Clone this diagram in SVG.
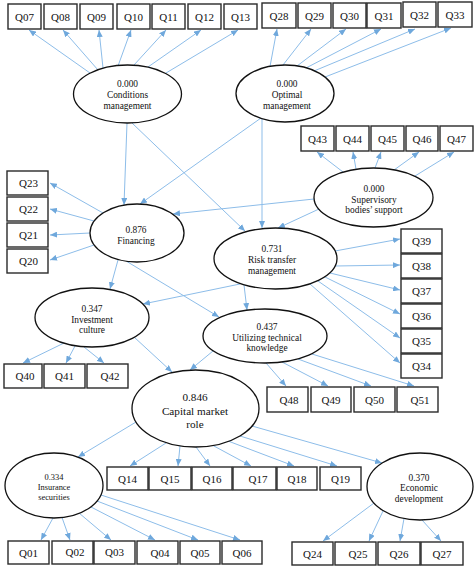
<svg xmlns="http://www.w3.org/2000/svg" width="474" height="566" viewBox="0 0 474 566">
<style>
.b rect{fill:#fff;stroke:#2a2a2a;stroke-width:1.4}
.b text{font-family:"Liberation Serif","Times New Roman",serif;font-size:11px;text-anchor:middle;fill:#111}
.n ellipse{fill:#fff;stroke:#111;stroke-width:1.3}
.n text{font-family:"Liberation Serif","Times New Roman",serif;font-size:9.4px;text-anchor:middle;fill:#111}
#conn line{stroke:#8dbde9;stroke-width:1;fill:none;marker-end:url(#ah)}
</style>
<defs>
<marker id="ah" markerUnits="userSpaceOnUse" markerWidth="7" markerHeight="6" refX="7" refY="3" orient="auto">
<path d="M0,0 L7,3 L0,6 z" fill="#6fa8dc"/>
</marker>
</defs>
<rect width="474" height="566" fill="#fff"/>
<g id="conn">
<line x1="90" y1="73" x2="29" y2="30"/>
<line x1="98" y1="70" x2="63" y2="30"/>
<line x1="103" y1="68" x2="99" y2="30"/>
<line x1="118" y1="66" x2="131" y2="30"/>
<line x1="134" y1="65" x2="166" y2="30"/>
<line x1="148" y1="67" x2="201" y2="30"/>
<line x1="166" y1="73" x2="238" y2="30"/>
<line x1="270" y1="66.5" x2="277" y2="29"/>
<line x1="283" y1="65" x2="311" y2="29"/>
<line x1="297" y1="66" x2="346" y2="29"/>
<line x1="306" y1="68" x2="381" y2="29"/>
<line x1="314" y1="71" x2="415" y2="29"/>
<line x1="325" y1="77" x2="451" y2="28"/>
<line x1="343" y1="172" x2="317" y2="152"/>
<line x1="356" y1="169" x2="353" y2="152"/>
<line x1="375" y1="168" x2="381" y2="152"/>
<line x1="394" y1="170" x2="419" y2="152"/>
<line x1="415" y1="176" x2="454" y2="152"/>
<line x1="127" y1="123" x2="124" y2="205"/>
<line x1="261" y1="118" x2="140" y2="204"/>
<line x1="132" y1="123" x2="245" y2="231"/>
<line x1="262" y1="119" x2="262" y2="228"/>
<line x1="314" y1="199" x2="173" y2="214"/>
<line x1="319" y1="209" x2="278" y2="228"/>
<line x1="103" y1="213" x2="50" y2="183"/>
<line x1="94" y1="221" x2="50" y2="209"/>
<line x1="90" y1="233" x2="50" y2="235"/>
<line x1="94" y1="245" x2="50" y2="260"/>
<line x1="335" y1="251" x2="400" y2="239"/>
<line x1="335" y1="266" x2="400" y2="265"/>
<line x1="330" y1="273" x2="400" y2="290"/>
<line x1="325" y1="277" x2="400" y2="314"/>
<line x1="318" y1="281" x2="400" y2="338"/>
<line x1="310" y1="284" x2="400" y2="363"/>
<line x1="118" y1="260" x2="110" y2="289"/>
<line x1="126" y1="261" x2="219" y2="317"/>
<line x1="240" y1="284" x2="143" y2="304"/>
<line x1="244" y1="285" x2="247" y2="310"/>
<line x1="64" y1="343" x2="23" y2="363"/>
<line x1="75" y1="346" x2="66" y2="363"/>
<line x1="84" y1="347" x2="104" y2="363"/>
<line x1="134" y1="337" x2="172" y2="372"/>
<line x1="213" y1="351" x2="190" y2="370"/>
<line x1="266" y1="363" x2="286" y2="386"/>
<line x1="282" y1="362" x2="328" y2="386"/>
<line x1="298" y1="359" x2="371" y2="386"/>
<line x1="312" y1="354" x2="414" y2="386"/>
<line x1="136" y1="422" x2="78" y2="457"/>
<line x1="166" y1="443" x2="130" y2="466"/>
<line x1="180" y1="446" x2="178" y2="466"/>
<line x1="196" y1="447" x2="210" y2="466"/>
<line x1="213" y1="445.5" x2="251" y2="466"/>
<line x1="228" y1="441" x2="294" y2="466"/>
<line x1="240" y1="436" x2="337" y2="466"/>
<line x1="252" y1="426" x2="382" y2="463"/>
<line x1="53" y1="518" x2="41" y2="540"/>
<line x1="62" y1="517.5" x2="70" y2="540"/>
<line x1="79" y1="513" x2="111" y2="540"/>
<line x1="91" y1="507" x2="155" y2="540"/>
<line x1="97" y1="501" x2="198" y2="540"/>
<line x1="101" y1="495" x2="240" y2="540"/>
<line x1="374" y1="503" x2="323" y2="541"/>
<line x1="383" y1="511" x2="369" y2="541"/>
<line x1="404" y1="518.5" x2="400" y2="541"/>
<line x1="422" y1="520" x2="441" y2="541"/>
</g>
<g id="boxes">
<g id="Q07" class="b"><rect x="8" y="4" width="33" height="25"/><text x="24.5" y="20.5">Q07</text></g>
<g id="Q08" class="b"><rect x="44" y="4" width="33" height="25"/><text x="60.5" y="20.5">Q08</text></g>
<g id="Q09" class="b"><rect x="80" y="4" width="33" height="25"/><text x="96.5" y="20.5">Q09</text></g>
<g id="Q10" class="b"><rect x="117" y="4" width="33" height="25"/><text x="133.5" y="20.5">Q10</text></g>
<g id="Q11" class="b"><rect x="152" y="4" width="33" height="25"/><text x="168.5" y="20.5">Q11</text></g>
<g id="Q12" class="b"><rect x="188" y="4" width="33" height="25"/><text x="204.5" y="20.5">Q12</text></g>
<g id="Q13" class="b"><rect x="224" y="4" width="33" height="25"/><text x="240.5" y="20.5">Q13</text></g>
<g id="Q28" class="b"><rect x="262" y="3" width="34" height="25"/><text x="279" y="19.5">Q28</text></g>
<g id="Q29" class="b"><rect x="298" y="3" width="33" height="25"/><text x="314.5" y="19.5">Q29</text></g>
<g id="Q30" class="b"><rect x="333" y="3" width="33" height="25"/><text x="349.5" y="19.5">Q30</text></g>
<g id="Q31" class="b"><rect x="367" y="3" width="34" height="25"/><text x="384" y="19.5">Q31</text></g>
<g id="Q32" class="b"><rect x="403" y="2" width="33" height="25"/><text x="419.5" y="18.5">Q32</text></g>
<g id="Q33" class="b"><rect x="438" y="2" width="34" height="25"/><text x="455" y="18.5">Q33</text></g>
<g id="Q43" class="b"><rect x="301" y="126" width="33" height="25"/><text x="317.5" y="142.5">Q43</text></g>
<g id="Q44" class="b"><rect x="336" y="126" width="33" height="25"/><text x="352.5" y="142.5">Q44</text></g>
<g id="Q45" class="b"><rect x="371" y="126" width="33" height="25"/><text x="387.5" y="142.5">Q45</text></g>
<g id="Q46" class="b"><rect x="406" y="126" width="32" height="25"/><text x="422" y="142.5">Q46</text></g>
<g id="Q47" class="b"><rect x="440" y="126" width="33" height="25"/><text x="456.5" y="142.5">Q47</text></g>
<g id="Q23" class="b"><rect x="7" y="171" width="41" height="24"/><text x="28.5" y="187">Q23</text></g>
<g id="Q22" class="b"><rect x="7" y="197" width="41" height="24"/><text x="28.5" y="213">Q22</text></g>
<g id="Q21" class="b"><rect x="7" y="223" width="41" height="24"/><text x="28.5" y="239">Q21</text></g>
<g id="Q20" class="b"><rect x="7" y="249" width="41" height="24"/><text x="28.5" y="265">Q20</text></g>
<g id="Q39" class="b"><rect x="401" y="229" width="41" height="24"/><text x="421.5" y="245">Q39</text></g>
<g id="Q38" class="b"><rect x="401" y="254" width="41" height="24"/><text x="421.5" y="270">Q38</text></g>
<g id="Q37" class="b"><rect x="401" y="279" width="41" height="24"/><text x="421.5" y="295">Q37</text></g>
<g id="Q36" class="b"><rect x="401" y="304" width="41" height="24"/><text x="421.5" y="320">Q36</text></g>
<g id="Q35" class="b"><rect x="401" y="329" width="41" height="24"/><text x="421.5" y="345">Q35</text></g>
<g id="Q34" class="b"><rect x="401" y="354" width="41" height="24"/><text x="421.5" y="370">Q34</text></g>
<g id="Q40" class="b"><rect x="4" y="364" width="38" height="24"/><text x="25" y="380">Q40</text></g>
<g id="Q41" class="b"><rect x="44" y="364" width="41" height="24"/><text x="64.5" y="380">Q41</text></g>
<g id="Q42" class="b"><rect x="87" y="364" width="41" height="24"/><text x="110" y="380">Q42</text></g>
<g id="Q48" class="b"><rect x="267" y="387" width="41" height="25"/><text x="289" y="403.5">Q48</text></g>
<g id="Q49" class="b"><rect x="311" y="387" width="40" height="25"/><text x="331" y="403.5">Q49</text></g>
<g id="Q50" class="b"><rect x="354" y="387" width="41" height="25"/><text x="374.5" y="403.5">Q50</text></g>
<g id="Q51" class="b"><rect x="397" y="387" width="41" height="25"/><text x="420" y="403.5">Q51</text></g>
<g id="Q14" class="b"><rect x="107" y="467" width="41" height="23"/><text x="127.5" y="482.5">Q14</text></g>
<g id="Q15" class="b"><rect x="149" y="467" width="42" height="23"/><text x="170" y="482.5">Q15</text></g>
<g id="Q16" class="b"><rect x="192" y="467" width="40" height="23"/><text x="212" y="482.5">Q16</text></g>
<g id="Q17" class="b"><rect x="233" y="467" width="43" height="23"/><text x="258" y="483">Q17</text></g>
<g id="Q18" class="b"><rect x="277" y="467" width="40" height="23"/><text x="297" y="482.5">Q18</text></g>
<g id="Q19" class="b"><rect x="320" y="467" width="41" height="23"/><text x="340.5" y="482.5">Q19</text></g>
<g id="Q01" class="b"><rect x="8" y="541" width="41" height="23"/><text x="28.5" y="556.5">Q01</text></g>
<g id="Q02" class="b"><rect x="52" y="541" width="41" height="23"/><text x="75" y="556">Q02</text></g>
<g id="Q03" class="b"><rect x="94" y="541" width="41" height="23"/><text x="114.5" y="556">Q03</text></g>
<g id="Q04" class="b"><rect x="137" y="541" width="41" height="23"/><text x="160" y="556.5">Q04</text></g>
<g id="Q05" class="b"><rect x="180" y="541" width="40" height="23"/><text x="200" y="556.5">Q05</text></g>
<g id="Q06" class="b"><rect x="222" y="541" width="40" height="23"/><text x="242" y="556.5">Q06</text></g>
<g id="Q24" class="b"><rect x="292" y="542" width="41" height="23"/><text x="312.5" y="557.5">Q24</text></g>
<g id="Q25" class="b"><rect x="335" y="542" width="41" height="23"/><text x="358" y="557.5">Q25</text></g>
<g id="Q26" class="b"><rect x="378" y="542" width="42" height="23"/><text x="399" y="557.5">Q26</text></g>
<g id="Q27" class="b"><rect x="421" y="542" width="42" height="23"/><text x="442" y="557.5">Q27</text></g>
</g>
<g id="conditions" class="n"><ellipse cx="127.5" cy="94" rx="54" ry="29"/><text x="127.5" y="86.5">0.000</text><text x="127.5" y="97.5">Conditions</text><text x="127.5" y="108.5">management</text></g>
<g id="optimal" class="n"><ellipse cx="285" cy="93.5" rx="49" ry="28.5"/><text x="287" y="87">0.000</text><text x="287" y="98">Optimal</text><text x="287" y="109">management</text></g>
<g id="supervisory" class="n"><ellipse cx="373.5" cy="197.5" rx="59.5" ry="29.5"/><text x="374" y="191.5">0.000</text><text x="374" y="202.5">Supervisory</text><text x="374" y="212.5">bodies’ support</text></g>
<g id="financing" class="n"><ellipse cx="137" cy="233" rx="47" ry="29"/><text x="136" y="232.5">0.876</text><text x="136" y="243.5">Financing</text></g>
<g id="risk" class="n"><ellipse cx="275.5" cy="258.5" rx="61.5" ry="30.5"/><text x="272" y="251.5">0.731</text><text x="272" y="262.5">Risk transfer</text><text x="272" y="273.5">management</text></g>
<g id="investment" class="n"><ellipse cx="92" cy="317.5" rx="57" ry="29.5"/><text x="92" y="311.5">0.347</text><text x="92" y="322.5">Investment</text><text x="92" y="333">culture</text></g>
<g id="utilizing" class="n"><ellipse cx="265" cy="336" rx="62" ry="27"/><text x="267" y="329.5">0.437</text><text x="267" y="340.5">Utilizing technical</text><text x="267" y="351">knowledge</text></g>
<g id="capital" class="n"><ellipse cx="195.5" cy="408.5" rx="63.5" ry="38.5"/><text x="195" y="401" style="font-size:11.2px">0.846</text><text x="195" y="415" style="font-size:11.2px">Capital market</text><text x="195" y="428" style="font-size:11.2px">role</text></g>
<g id="insurance" class="n"><ellipse cx="54" cy="485.5" rx="49" ry="32.5"/><text x="54" y="480" style="font-size:8.4px">0.334</text><text x="54" y="490" style="font-size:8.4px">Insurance</text><text x="54" y="500" style="font-size:8.4px">securities</text></g>
<g id="economic" class="n"><ellipse cx="420" cy="486.5" rx="53" ry="33.5"/><text x="419" y="480.5">0.370</text><text x="419" y="491">Economic</text><text x="419" y="501.5">development</text></g>
</svg>
